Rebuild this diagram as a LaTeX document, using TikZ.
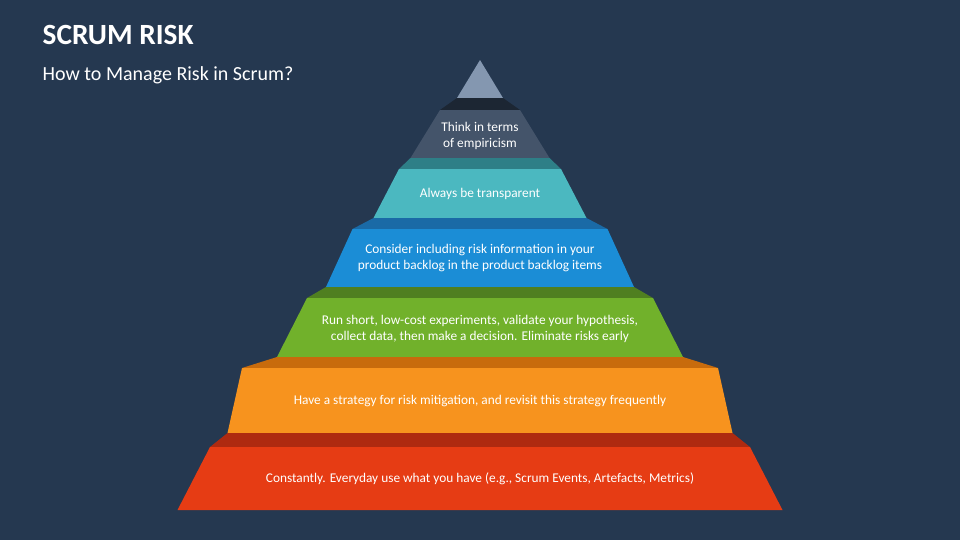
\documentclass[tikz,border=0pt]{standalone}
\usepackage{fontspec}
\setmainfont{Carlito}
\definecolor{bg}{HTML}{253850}
\definecolor{capc}{HTML}{8497B0}
\definecolor{capsh}{HTML}{1C2633}
\definecolor{slate}{HTML}{44546A}
\definecolor{slatesh}{HTML}{2E7F87}
\definecolor{teal}{HTML}{4BB8C0}
\definecolor{tealsh}{HTML}{1A6AA6}
\definecolor{blue}{HTML}{1B8DD6}
\definecolor{bluesh}{HTML}{4F7F20}
\definecolor{green}{HTML}{71B12B}
\definecolor{greensh}{HTML}{C86B0C}
\definecolor{orange}{HTML}{F7931E}
\definecolor{orangesh}{HTML}{AE2A10}
\definecolor{red}{HTML}{E63C14}
\tikzset{lbl/.style={text=white,font=\fontsize{10}{12}\selectfont,align=center}}
\newcommand{\trap}[5]{\fill[#5] (480-#3,#1) -- (480+#3,#1) -- (480+#4,#2) -- (480-#4,#2) -- cycle;}
\begin{document}
\begin{tikzpicture}[x=0.75pt,y=-0.75pt]
\fill[bg] (0,0) rectangle (960,540);
\useasboundingbox (0,0) rectangle (960,540);
\node[anchor=west,text=white,font=\fontsize{22}{26}\selectfont\bfseries] (title) at (38,35) {SCRUM RISK};
\node[anchor=west,text=white,font=\fontsize{15}{18}\selectfont] (sub) at (38,75) {How to Manage Risk in Scrum?};
\fill[capc] (480,60) -- (503,98) -- (457,98) -- cycle;
\trap{98}{110}{23}{40}{capsh}
\trap{110}{158}{40}{69.5}{slate}
\trap{158}{169}{69.5}{81}{slatesh}
\trap{169}{218}{81}{106.5}{teal}
\trap{218}{229}{106.5}{127.5}{tealsh}
\trap{229}{287}{127.5}{154}{blue}
\trap{287}{298}{154}{173}{bluesh}
\trap{298}{357}{173}{203}{green}
\trap{357}{368}{203}{238}{greensh}
\trap{368}{433}{238}{252.5}{orange}
\trap{433}{447}{252.5}{270}{orangesh}
\trap{447}{510}{270}{302.5}{red}
\node[lbl] (l1) at (480,136) {Think in terms\\of empiricism};
\node[lbl] (l2) at (480,194) {Always be transparent};
\node[lbl] (l3) at (480,258) {Consider including risk information in your\\product backlog in the product backlog items};
\node[lbl] (l4) at (480,329) {Run short, low-cost experiments, validate your hypothesis,\\collect data, then make a decision. Eliminate risks early};
\node[lbl] (l5) at (480,401) {Have a strategy for risk mitigation, and revisit this strategy frequently};
\node[lbl] (l6) at (480,479) {Constantly. Everyday use what you have (e.g., Scrum Events, Artefacts, Metrics)};
\end{tikzpicture}
\end{document}
